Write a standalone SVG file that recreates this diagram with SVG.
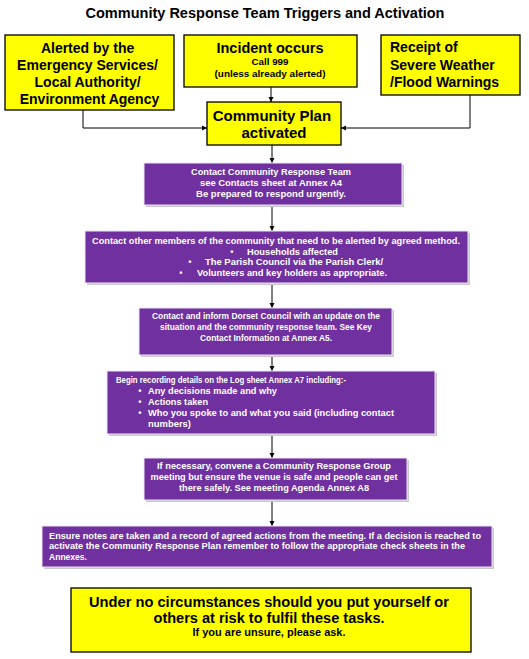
<svg xmlns="http://www.w3.org/2000/svg" width="529" height="659" viewBox="0 0 529 659">
<defs>
<marker id="ah" markerWidth="6" markerHeight="6" refX="5" refY="3" orient="auto" markerUnits="userSpaceOnUse">
<path d="M0,0.5 L5,3 L0,5.5 Z" fill="#000"/>
</marker>
</defs>
<style>
.y{fill:#FFFF00;stroke:#000;stroke-width:1.3}
.p{fill:#7030A0;stroke:#EDE3F5;stroke-width:1}
.sh{fill:#C9C9C9}
.t{font-family:"Liberation Sans",Arial,sans-serif;font-weight:bold;fill:#000}
.w{font-family:"Liberation Sans",Arial,sans-serif;font-weight:bold;fill:#fff;font-size:9.3px}
.c{fill:none;stroke:#000;stroke-width:1;marker-end:url(#ah)}
</style>
<rect width="529" height="659" fill="#fff"/>
<text class="t" x="265" y="18" font-size="14" text-anchor="middle" textLength="359" lengthAdjust="spacingAndGlyphs">Community Response Team Triggers and Activation</text>

<g id="connectors">
<path class="c" d="M271,87 V102"/>
<path class="c" d="M83,110 V128 H207"/>
<path class="c" d="M470,95 V128 H341"/>
<path class="c" d="M272,145 V163"/>
<path class="c" d="M272,205 V231"/>
<path class="c" d="M272,283 V308"/>
<path class="c" d="M272,355 V371"/>
<path class="c" d="M272,434 V458"/>
<path class="c" d="M272,500 V526"/>
</g>

<g id="alerted">
<rect class="y" x="5" y="35" width="169" height="75"/>
<text class="t" font-size="14" text-anchor="middle">
<tspan x="89.5" y="53">Alerted by the</tspan>
<tspan x="89.5" y="70">Emergency Services/</tspan>
<tspan x="89.5" y="87">Local Authority/</tspan>
<tspan x="89.5" y="104">Environment Agency</tspan>
</text>
</g>

<g id="incident">
<rect class="y" x="184" y="35" width="173" height="52"/>
<text class="t" x="270" y="53" font-size="14" text-anchor="middle" textLength="107" lengthAdjust="spacingAndGlyphs">Incident occurs</text>
<text class="t" x="270" y="65" font-size="9.8" text-anchor="middle">Call 999</text>
<text class="t" x="270" y="77" font-size="9.8" text-anchor="middle" textLength="111" lengthAdjust="spacingAndGlyphs">(unless already alerted)</text>
</g>

<g id="receipt">
<rect class="y" x="381" y="35" width="139" height="60"/>
<text class="t" font-size="14">
<tspan x="390" y="52">Receipt of</tspan>
<tspan x="390" y="70">Severe Weather</tspan>
<tspan x="390" y="87">/Flood Warnings</tspan>
</text>
</g>

<g id="plan">
<rect class="y" x="207" y="102" width="134" height="43"/>
<text class="t" font-size="15" text-anchor="middle">
<tspan x="274" y="121">Community Plan</tspan>
<tspan x="274" y="138">activated</tspan>
</text>
</g>

<g id="contact-team">
<rect class="sh" x="146" y="165" width="258" height="42"/>
<rect class="p" x="144" y="163" width="258" height="42"/>
<text class="w" x="271" y="175" text-anchor="middle" textLength="160" lengthAdjust="spacingAndGlyphs">Contact Community Response Team</text>
<text class="w" x="271" y="186" text-anchor="middle" textLength="142" lengthAdjust="spacingAndGlyphs">see Contacts sheet at Annex A4</text>
<text class="w" x="271" y="197" text-anchor="middle" textLength="150" lengthAdjust="spacingAndGlyphs">Be prepared to respond urgently.</text>
</g>

<g id="contact-community">
<rect class="sh" x="87" y="233" width="383" height="52"/>
<rect class="p" x="85" y="231" width="383" height="52"/>
<text class="w" x="276" y="244" text-anchor="middle" textLength="368" lengthAdjust="spacingAndGlyphs">Contact other members of the community that need to be alerted by agreed method.</text>
<text class="w" x="232" y="255" text-anchor="middle">•</text>
<text class="w" x="247" y="255" textLength="91" lengthAdjust="spacingAndGlyphs">Households affected</text>
<text class="w" x="190" y="265" text-anchor="middle">•</text>
<text class="w" x="205" y="265" textLength="178" lengthAdjust="spacingAndGlyphs">The Parish Council via the Parish Clerk/</text>
<text class="w" x="181" y="276" text-anchor="middle">•</text>
<text class="w" x="197" y="276" textLength="190" lengthAdjust="spacingAndGlyphs">Volunteers and key holders as appropriate.</text>
</g>

<g id="dorset">
<rect class="sh" x="141" y="310" width="253" height="47"/>
<rect class="p" x="139" y="308" width="253" height="47"/>
<text class="w" x="266" y="319" text-anchor="middle" textLength="228" lengthAdjust="spacingAndGlyphs">Contact and inform Dorset Council with an update on the</text>
<text class="w" x="266" y="330" text-anchor="middle" textLength="212" lengthAdjust="spacingAndGlyphs">situation and the community response team.  See Key</text>
<text class="w" x="266" y="341" text-anchor="middle" textLength="132" lengthAdjust="spacingAndGlyphs">Contact Information at Annex A5.</text>
</g>

<g id="log">
<rect class="sh" x="109" y="373" width="328" height="63"/>
<rect class="p" x="107" y="371" width="328" height="63"/>
<text class="w" x="116" y="383" textLength="230" lengthAdjust="spacingAndGlyphs">Begin recording details on the Log sheet Annex A7 including:-</text>
<text class="w" x="140" y="394" text-anchor="middle">•</text>
<text class="w" x="148" y="394" textLength="129" lengthAdjust="spacingAndGlyphs">Any decisions made and why</text>
<text class="w" x="140" y="405" text-anchor="middle">•</text>
<text class="w" x="148" y="405" textLength="60" lengthAdjust="spacingAndGlyphs">Actions taken</text>
<text class="w" x="140" y="416" text-anchor="middle">•</text>
<text class="w" x="148" y="416" textLength="246" lengthAdjust="spacingAndGlyphs">Who you spoke to and what you said (including contact</text>
<text class="w" x="148" y="427" textLength="43" lengthAdjust="spacingAndGlyphs">numbers)</text>
</g>

<g id="meeting">
<rect class="sh" x="146" y="460" width="263" height="42"/>
<rect class="p" x="144" y="458" width="263" height="42"/>
<text class="w" x="274" y="469" text-anchor="middle" textLength="234" lengthAdjust="spacingAndGlyphs">If necessary, convene a Community Response Group</text>
<text class="w" x="274" y="480" text-anchor="middle" textLength="247" lengthAdjust="spacingAndGlyphs">meeting but ensure the venue is safe and people can get</text>
<text class="w" x="274" y="491" text-anchor="middle" textLength="190" lengthAdjust="spacingAndGlyphs">there safely.  See meeting Agenda Annex A8</text>
</g>

<g id="notes">
<rect class="sh" x="44" y="528" width="450" height="41"/>
<rect class="p" x="42" y="526" width="450" height="41"/>
<text class="w" x="49" y="539" textLength="432" lengthAdjust="spacingAndGlyphs">Ensure notes are taken and a record of agreed actions from the meeting. If a decision is reached to</text>
<text class="w" x="49" y="549" textLength="416" lengthAdjust="spacingAndGlyphs">activate the Community Response Plan remember to follow the appropriate check sheets in the</text>
<text class="w" x="49" y="560" textLength="38" lengthAdjust="spacingAndGlyphs">Annexes.</text>
</g>

<g id="warning">
<rect class="y" x="71" y="588" width="400" height="64"/>
<text class="t" x="269" y="607" font-size="14.7" text-anchor="middle" textLength="360" lengthAdjust="spacingAndGlyphs">Under no circumstances should you put yourself or</text>
<text class="t" x="269" y="623" font-size="14.7" text-anchor="middle" textLength="231" lengthAdjust="spacingAndGlyphs">others at risk to fulfil these tasks.</text>
<text class="t" x="269" y="636" font-size="10.5" text-anchor="middle" textLength="153" lengthAdjust="spacingAndGlyphs">If you are unsure, please ask.</text>
</g>
</svg>
